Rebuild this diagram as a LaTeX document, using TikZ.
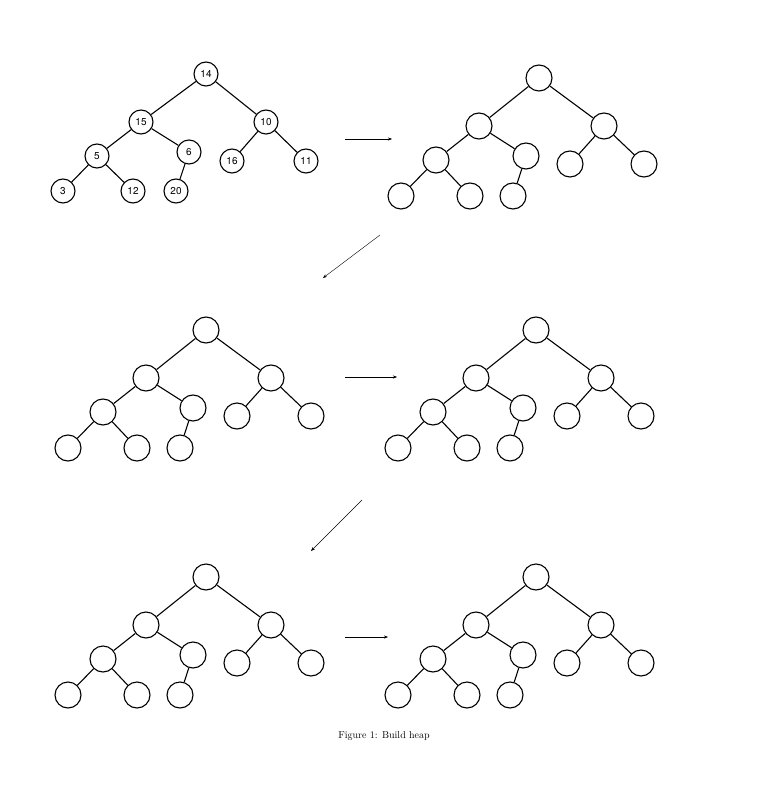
\documentclass[tikz,border=0pt]{standalone}
\usepackage{fontspec}
\setmainfont{Latin Modern Roman}
\newfontfamily\heros{TeX Gyre Heros}
\usetikzlibrary{arrows.meta}
\tikzset{
  hn/.style={circle,draw,line width=1.1pt,minimum size=24pt,inner sep=0pt,font=\heros\fontsize{10}{10}\selectfont},
  bn/.style={circle,draw,line width=1.1pt,minimum size=26pt,inner sep=0pt},
  te/.style={line width=1.1pt},
  ar/.style={line width=0.4pt,-{Stealth[length=4pt,width=3pt]}}
}
\newcommand{\blanktree}[3]{%
\begin{scope}[shift={(#2,#3)}]
\node[bn] (#1a) at (206,74) {};
\node[bn] (#1b) at (146,122) {};
\node[bn] (#1c) at (271,122) {};
\node[bn] (#1d) at (103,156) {};
\node[bn] (#1e) at (193,152) {};
\node[bn] (#1f) at (237,160) {};
\node[bn] (#1g) at (311,160) {};
\node[bn] (#1h) at (68,192) {};
\node[bn] (#1i) at (137,192) {};
\node[bn] (#1j) at (180,192) {};
\draw[te] (#1a)--(#1b) (#1a)--(#1c) (#1b)--(#1d) (#1b)--(#1e) (#1c)--(#1f) (#1c)--(#1g)
 (#1d)--(#1h) (#1d)--(#1i) (#1e)--(#1j);
\end{scope}}
\begin{document}
\begin{tikzpicture}[x=1pt,y=-1pt]
\useasboundingbox (0,0) rectangle (763,786);
\node[hn] (a) at (206,74) {14};
\node[hn] (b) at (141,122) {15};
\node[hn] (c) at (266,122) {10};
\node[hn] (d) at (97,156) {5};
\node[hn] (e) at (189,152) {6};
\node[hn] (f) at (232,161) {16};
\node[hn] (g) at (306,161) {11};
\node[hn] (h) at (63,191) {3};
\node[hn] (i) at (133,191) {12};
\node[hn] (j) at (176,191) {20};
\draw[te] (a)--(b) (a)--(c) (b)--(d) (b)--(e) (c)--(f) (c)--(g) (d)--(h) (d)--(i) (e)--(j);
\blanktree{t2}{333}{4}
\blanktree{t3}{0}{256}
\blanktree{t4}{330}{256}
\blanktree{t5}{0}{503}
\blanktree{t6}{330}{503}
\coordinate (p1) at (345,139); \coordinate (q1) at (392,139);
\coordinate (p2) at (380,235); \coordinate (q2) at (323,278);
\coordinate (p3) at (345,377); \coordinate (q3) at (397,377);
\coordinate (p4) at (362,500); \coordinate (q4) at (311,551);
\coordinate (p5) at (345,637); \coordinate (q5) at (388,637);
\foreach \k in {1,...,5} {\draw[ar] (p\k)--(q\k);}
\node (cap) at (384,736) {\fontsize{10}{12}\selectfont Figure 1: Build heap};
\end{tikzpicture}
\end{document}
